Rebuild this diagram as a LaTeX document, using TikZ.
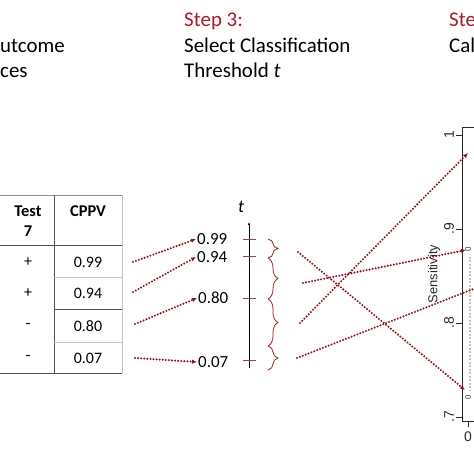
\documentclass[tikz,border=0pt]{standalone}
\usepackage{fontspec}
\setmainfont{Carlito}
\newfontfamily\plotfont{Liberation Sans}
\usetikzlibrary{arrows.meta,decorations.pathreplacing}
\definecolor{stepred}{RGB}{165,28,42}
\definecolor{dotred}{RGB}{140,20,30}
\definecolor{ticktone}{RGB}{150,70,70}
\definecolor{darkline}{RGB}{80,80,80}
\definecolor{midline}{RGB}{140,140,140}
\definecolor{paleline}{RGB}{195,195,195}
\definecolor{plotink}{RGB}{40,40,40}
\begin{document}
\begin{tikzpicture}[x=1bp,y=-1bp,
  big/.style={font=\fontsize{21}{25}\selectfont, inner sep=0pt, anchor=base west},
  tab/.style={font=\fontsize{16}{18}\selectfont, inner sep=0pt},
  tabb/.style={font=\bfseries\fontsize{16.5}{20}\selectfont, inner sep=0pt, align=center},
  tval/.style={font=\fontsize{17}{20}\selectfont, inner sep=1pt, anchor=west},
  dotline/.style={dotred, line width=2.3pt, dash pattern=on 0pt off 3.1pt, line cap=round},
  dotarrow/.style={dotline, -{Latex[length=5pt,width=4.5pt]}},
  mybrace/.style={decorate, decoration={brace, amplitude=10bp}, stepred, line width=0.8pt},
  tline/.style={line width=0.7pt},
  plotlab/.style={font=\plotfont\fontsize{14}{15}\selectfont, text=plotink, inner sep=0pt},
  ptlab/.style={font=\plotfont\fontsize{8}{9}\selectfont, text=plotink, inner sep=0pt},
]
\useasboundingbox (0,0) rectangle (474,474);

% ---- headings
\node[big] (h1a) at (0,53) {utcome};
\node[big] (h1b) at (0,78) {ces};
\node[big, text=stepred] (h3a) at (184,27) {Step 3:};
\node[big] (h3b) at (184,53) {Select Classification};
\node[big] (h3c) at (184,78) {Threshold \textit{t}};
\node[big, text=stepred] (h4a) at (449,27) {Ste};
\node[big] (h4b) at (449,53) {Cal};

% ---- table
\draw[tline, midline] (0,195) -- (122,195);
\draw[tline, darkline] (0,245) -- (122,245);
\draw[tline, darkline] (0,373) -- (122,373);
\draw[tline, darkline] (54,195) -- (54,373);
\draw[tline, paleline] (122,195) -- (122,373);
\draw[tline, paleline] (54,277) -- (122,277);
\draw[tline, darkline] (54,309) -- (122,309);
\draw[tline, paleline] (54,342) -- (122,342);

\node[tabb] (th1) at (28,221) {Test\\7};
\node[tabb] (th2) at (88,211) {CPPV};
\node[tab] (s1) at (28,262) {+};
\node[tab] (s2) at (28,293) {+};
\node[tab] (s3) at (28,326) {-};
\node[tab] (s4) at (28,358) {-};
\node[tab] (c1) at (88,262) {0.99};
\node[tab] (c2) at (88,293) {0.94};
\node[tab] (c3) at (88,326) {0.80};
\node[tab] (c4) at (88,358) {0.07};

% ---- arrows to thresholds
\coordinate (a1) at (133,262);
\coordinate (a2) at (133,292);
\coordinate (a3) at (135,324);
\coordinate (a4) at (135,358);
\node[tval] (v1) at (196,239) {0.99};
\node[tval] (v2) at (196,257) {0.94};
\node[tval] (v3) at (197,298) {0.80};
\node[tval] (v4) at (197,362) {0.07};
\draw[dotarrow] (a1) -- (v1.west);
\draw[dotarrow] (a2) -- (v2.west);
\draw[dotarrow] (a3) -- (v3.west);
\draw[dotarrow] (a4) -- (v4.west);

% ---- t axis
\coordinate (ax0) at (249,368);
\coordinate (ax1) at (249,222);
\draw[line width=0.7pt, -{Latex[length=3pt,width=2.5pt]}] (ax0) -- (ax1);
\node[font=\itshape\fontsize{18}{20}\selectfont, inner sep=0pt] (tl) at (241,207) {t};
\foreach \yy in {239,256,298,360} {
  \draw[ticktone, line width=0.7pt] (243,\yy) -- (256,\yy);
}

% ---- braces
\draw[mybrace] (268,239) -- (268,258);
\draw[mybrace] (268,258) -- (268,299);
\draw[mybrace] (268,299) -- (268,346);
\draw[mybrace] (268,346) -- (268,370);

% ---- lines to plot
\coordinate (b1) at (298,252);
\coordinate (b2) at (303,283);
\coordinate (b3) at (300,323);
\coordinate (b4) at (297,358);
\coordinate (p1) at (465,390);
\coordinate (p2) at (466,250);
\coordinate (p3) at (468,153);
\coordinate (p4) at (476,288);

% ---- plot frame
\draw[line width=0.8pt, plotink] (476,127) -- (462,127) -- (462,421) -- (476,421);
\foreach \yy in {135,229,323,417} {
  \draw[line width=0.7pt, plotink] (456,\yy) -- (462,\yy);
}
\node[plotlab, rotate=90] (yl1) at (449,135) {1};
\node[plotlab, rotate=90] (yl2) at (449,229) {.9};
\node[plotlab, rotate=90] (yl3) at (449,323) {.8};
\node[plotlab, rotate=90] (yl4) at (449,417) {.7};
\node[plotlab, rotate=90, font=\plotfont\fontsize{13}{14}\selectfont] (ylab) at (434,274) {Sensitivity};
\draw[line width=0.7pt, plotink] (468,421) -- (468,427);
\node[plotlab] (xl0) at (468,437) {0};
\draw[paleline, line width=1.2pt, dash pattern=on 2pt off 1.5pt] (470,257) -- (470,390);
\node[ptlab, rotate=90] (pt1) at (468,249) {0};
\node[ptlab, rotate=90] (pt2) at (468,397) {0};

\draw[dotarrow] (b1) -- (p1);
\draw[dotarrow] (b2) -- (p2);
\draw[dotarrow] (b3) -- (p3);
\draw[dotline] (b4) -- (p4);
\end{tikzpicture}
\end{document}
